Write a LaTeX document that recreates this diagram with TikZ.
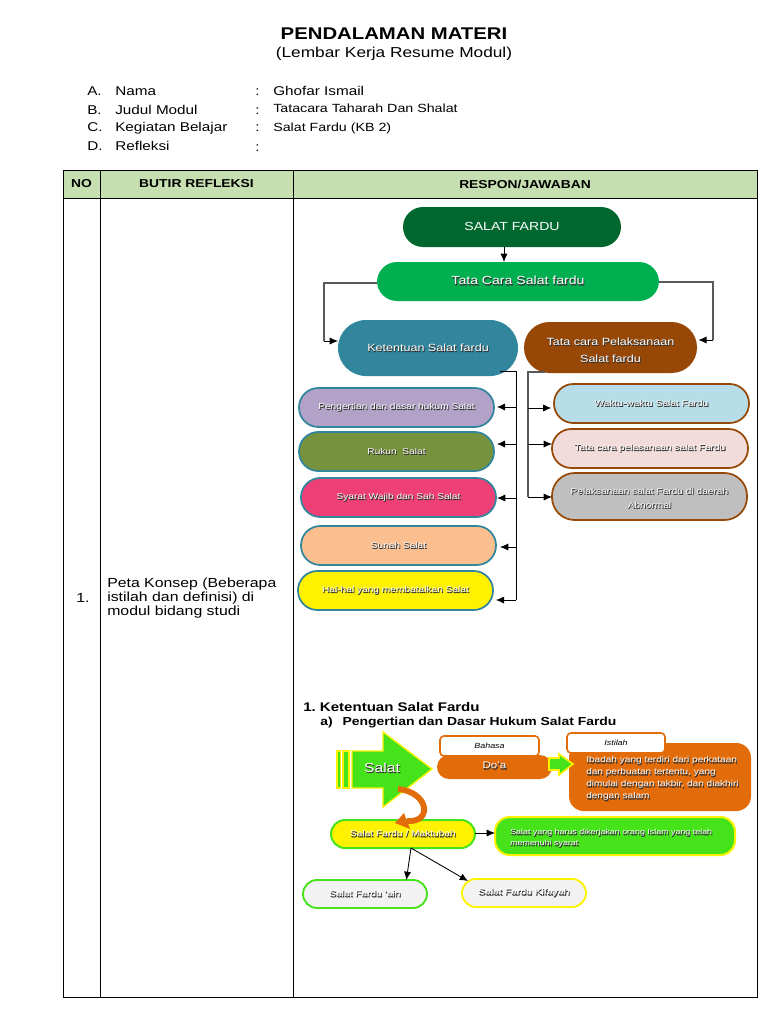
\documentclass[tikz,border=0pt]{standalone}
\usepackage{fontspec}
\setmainfont[FakeStretch=1.2]{Liberation Sans}
\usetikzlibrary{arrows.meta}
\definecolor{hdr}{HTML}{C6DFB0}
\definecolor{dkgreen}{HTML}{00682F}
\definecolor{midgreen}{HTML}{00B050}
\definecolor{teal}{HTML}{31859C}
\definecolor{brown}{HTML}{974806}
\definecolor{org}{HTML}{E36C0A}
\definecolor{lime}{HTML}{46E31A}
\definecolor{cpd}{HTML}{B2A2C7}
\definecolor{crs}{HTML}{76923C}
\definecolor{csw}{HTML}{EE4077}
\definecolor{css}{HTML}{FBBF8F}
\definecolor{cww}{HTML}{B7DDE8}
\definecolor{ctl}{HTML}{F2DCDB}
\definecolor{cpa}{HTML}{BFBFBF}
\newcommand{\sh}[1]{\leavevmode\rlap{\kern0.45pt\raisebox{-0.45pt}{\addfontfeature{FakeBold=1.5}\textcolor{black!80}{#1}}}\textcolor{white}{#1}}
\newcommand{\fsz}[2]{\fontsize{#1}{#2}\selectfont}
\tikzset{
  x=0.75pt,y=-0.75pt,
  box/.style n args={4}{at={({(#1+#3)/2},{(#2+#4)/2})},minimum width={(#3-#1)*0.75pt},minimum height={(#4-#2)*0.75pt},inner sep=0pt,outer sep=0pt,align=center},
  pill/.style={rounded corners=15pt,text=white},
  main/.style={pill,font=\fsz{8.8}{11}},
  big/.style={pill,font=\fsz{7.85}{12.75}},
  sub/.style={rounded corners=14.5pt,line width=1.3pt,font=\fsz{6.35}{10.5},text=white},
  tealb/.style={sub,draw=teal},
  brownb/.style={sub,draw=brown},
  tab/.style={draw=black,line width=0.75pt},
  hd/.style={tab,fill=hdr,font=\bfseries\fsz{8.65}{11},inner sep=0pt,outer sep=0pt,align=center},
  lbl/.style={anchor=base west,inner sep=0pt,font=\fsz{9.55}{11}},
  val/.style={anchor=base west,inner sep=0pt,font=\fsz{8.9}{11}},
  con/.style={black,line width=0.65pt,-{Latex[length=6.2pt,width=5.4pt]}},
  grey/.style={draw=black!65,line width=0.8pt},
  tag/.style={fill=white,draw=org,line width=1.2pt,rounded corners=3pt,text=black,font=\itshape\fsz{5.6}{7}},
  stone/.style={rounded corners=10.5pt,fill=black!5,line width=1.4pt,font=\fsz{6.35}{8},text=white},
}
\begin{document}
\begin{tikzpicture}
\useasboundingbox[fill=white] (0,0) rectangle (768,1024);
% title
\node[inner sep=0pt,font=\bfseries\fsz{12.7}{14}] (title) at (394,34) {PENDALAMAN MATERI};
\node[inner sep=0pt,font=\fsz{10.8}{12}] (subt) at (394,54) {(Lembar Kerja Resume Modul)};
% list
\node[lbl] (a1) at (87,95) {A.}; \node[lbl] (a2) at (115,95) {Nama}; \node[lbl] (a3) at (255,95) {:}; \node[lbl] (a4) at (273,95) {Ghofar Ismail};
\node[lbl] (b1) at (87,114) {B.}; \node[lbl] (b2) at (115,114) {Judul Modul}; \node[lbl] (b3) at (255,114) {:}; \node[val] (b4) at (273,113) {Tatacara Taharah Dan Shalat};
\node[lbl] (c1) at (87,132) {C.}; \node[lbl] (c2) at (115,132) {Kegiatan Belajar}; \node[lbl] (c3) at (255,132) {:}; \node[val] (c4) at (273,132) {Salat Fardu (KB 2)};
\node[lbl] (d1) at (87,150) {D.}; \node[lbl] (d2) at (115,150) {Refleksi}; \node[lbl] (d3) at (255,151) {:};
% table
\node[hd,box={63}{170}{100}{198}] (hno) {NO};
\node[hd,box={100}{170}{293}{198}] (hbr) {BUTIR REFLEKSI};
\node[hd,box={293}{170}{757}{198}] (hrj) {RESPON/JAWABAN};
\draw[tab] (63,198) rectangle (100,997);
\draw[tab] (100,198) rectangle (293,997);
\draw[tab] (293,198) rectangle (757,997);
\node[anchor=base west,inner sep=0pt,font=\fsz{9.9}{11}] (num) at (76,602) {1.};
\node[anchor=west,inner sep=0pt,align=left,font=\fsz{9.9}{10.5},text width=140pt] (peta) at (107,598.5) {Peta Konsep (Beberapa\\istilah dan definisi) di\\modul bidang studi};
% top boxes
\node[main,fill=dkgreen,box={403}{207}{621}{247}] (sf) {SALAT FARDU\rule[-1.2pt]{0pt}{1pt}};
\node[main,fill=midgreen,box={377}{262}{659}{301}] (tc) {\sh{Tata Cara Salat fardu}\rule[-1.5pt]{0pt}{1pt}};
\node[big,fill=teal,rounded corners=21pt,box={338}{320}{518}{376}] (kt) {\sh{Ketentuan Salat fardu}};
\node[big,fill=brown,rounded corners=19pt,box={524}{322}{697}{373}] (tp) {\rule{0pt}{10pt}\sh{Tata cara Pelaksanaan}\\\sh{Salat fardu}};
% left column
\node[tealb,fill=cpd,box={299}{388}{494}{427}] (pd) {\sh{Pengertian dan dasar hukum Salat}};
\node[tealb,fill=crs,box={299}{432}{494}{471}] (rs) {\sh{Rukun\ \ Salat}};
\node[tealb,fill=csw,box={301}{478}{496}{517}] (sw) {\sh{Syarat Wajib dan Sah Salat}};
\node[tealb,fill=css,box={301}{526}{496}{565}] (ss) {\sh{Sunah Salat}};
\node[tealb,fill=yellow,box={298}{571}{493}{610}] (hh) {\sh{Hal-hal yang membatalkan Salat}};
% right column
\node[brownb,fill=cww,box={554}{384}{749}{423}] (ww) {\sh{Waktu-waktu Salat Fardu}};
\node[brownb,fill=ctl,box={552}{429}{748}{468}] (tl) {\sh{Tata cara pelasanaan salat Fardu}};
\node[brownb,fill=cpa,rounded corners=17pt,box={552}{473}{747}{520}] (pa) {\rule{0pt}{7.4pt}\sh{Pelaksanaan salat Fardu di daerah}\\\sh{Abnormal}};
% connectors top
\coordinate (sfo) at (504,247);
\draw[con] (sfo) -- (sfo |- tc.north);
\coordinate (tcl) at (324,341);
\coordinate (tcr) at (713,340);
\draw[grey] (tc.west) ++(0,1.5) -| (tcl);
\draw[con] (tcl) -- (tcl -| kt.west);
\draw[grey] (tc.east) ++(0,0.5) -| (tcr);
\draw[con,shorten >=1pt] (tcr) -- (tcr -| tp.east);
% bus left
\coordinate (kb) at (516,371);
\coordinate (ke) at (516,600);
\coordinate (k1) at (516,407);
\coordinate (k2) at (516,444);
\coordinate (k3) at (516,498);
\coordinate (k4) at (516,547);
\draw[black,line width=0.7pt] (kt.south east) ++(-18,-5) -- (kb) -- (ke);
\draw[con,shorten >=2.2pt] (k1) -- (k1 -| pd.east);
\draw[con,shorten >=2.2pt] (k2) -- (k2 -| rs.east);
\draw[con,shorten >=0.8pt] (k3) -- (k3 -| sw.east);
\draw[con,shorten >=3pt] (k4) -- (k4 -| ss.east);
\draw[con,shorten >=2.2pt] (ke) -- (ke -| hh.east);
% bus right
\coordinate (pb) at (528,372);
\coordinate (pe) at (528,497);
\coordinate (p1) at (528,408);
\coordinate (p2) at (528,444);
\draw[grey] (tp.south west) ++(21,-1) -- (pb) -- (pe);
\draw[con,shorten >=2pt] (p1) -- (p1 -| ww.west);
\draw[con] (p2) -- (p2 -| tl.west);
\draw[con] (pe) -- (pe -| pa.west);
% headings
\node[inner sep=0pt,anchor=base west,font=\bfseries\fsz{9.4}{11}] (h1) at (303,711) {1.\ Ketentuan Salat Fardu};
\node[inner sep=0pt,anchor=base west,font=\bfseries\fsz{8.7}{11}] (h2) at (320,725) {a)\hspace{7.5pt}Pengertian dan Dasar Hukum Salat Fardu};
% block arrow
\fill[lime,draw=yellow,line width=1pt] (337,751) rectangle (340.5,788);
\fill[lime,draw=yellow,line width=1pt] (343,751) rectangle (349,788);
\draw[fill=lime,draw=yellow,line width=1pt] (352,751) -- (383,751) -- (383,732) -- (432,769) -- (383,807) -- (383,788) -- (352,788) -- cycle;
\node[inner sep=0pt,font=\fsz{9.8}{11}] (sal) at (382,768) {\sh{Salat}};
% Do'a
\node[pill,rounded corners=9pt,fill=org,font=\fsz{7.2}{9},box={437}{755}{552}{779}] (doa) {\sh{Do’a}\rule[-2pt]{0pt}{1pt}};
\node[tag,box={440}{736}{539}{756}] (bhs) {Bahasa};
\node[box={569}{743}{751}{811},fill=org,rounded corners=11pt] (ist) {};
\node[inner sep=0pt,anchor=west,align=left,font=\fsz{6.3}{9}] (isttx) at (586,779) {\sh{Ibadah yang terdiri dari perkataan}\\\sh{dan perbuatan tertentu, yang}\\\sh{dimulai dengan takbir, dan diakhiri}\\\sh{dengan salam}};
\node[tag,box={567}{733}{665}{753}] (itl) {Istilah};
\draw[fill=lime,draw=yellow,line width=1.2pt] (549,758) -- (559,758) -- (559,754) -- (573,764) -- (559,775) -- (559,770) -- (549,770) -- cycle;
% lower
\node[fill=yellow,draw=lime,line width=1.5pt,rounded corners=10.5pt,font=\fsz{6.35}{8},box={331}{820}{475}{848}] (mk) {\sh{Salat Fardu / Maktubah}};
\node[fill=lime,draw=yellow,line width=1.5pt,rounded corners=11pt,box={495}{817}{735}{855}] (df) {};
\node[inner sep=0pt,anchor=west,align=left,font=\fsz{5.55}{8.25}] (dftx) at (510,838.5) {\sh{Salat yang harus dikerjakan orang Islam yang telah}\\\sh{memenuhi syarat}};
\node[stone,draw=lime,box={303}{880}{427}{908}] (ai) {\sh{Salat Fardu ‘ain}};
\node[stone,draw=yellow,font=\fsz{6.5}{8},box={462}{879}{586}{907}] (kf) {\sh{Salat Fardu Kifayah}};
\coordinate (mke) at (475,833);
\draw[con] (mke) -- (mke -| df.west);
\draw[con] (mk.south) ++(8,0) coordinate (mks) -- ([xshift=31pt]ai.north);
\draw[con] (mks) -- ([xshift=-42pt,yshift=-1.5pt]kf.north);
% curved arrow
\draw[org,line width=4.4pt] (398,789) .. controls (429,792) and (433,823) .. (407,821);
\fill[org] (395,823) -- (404,813) -- (410,829) -- cycle;
\end{tikzpicture}
\end{document}
